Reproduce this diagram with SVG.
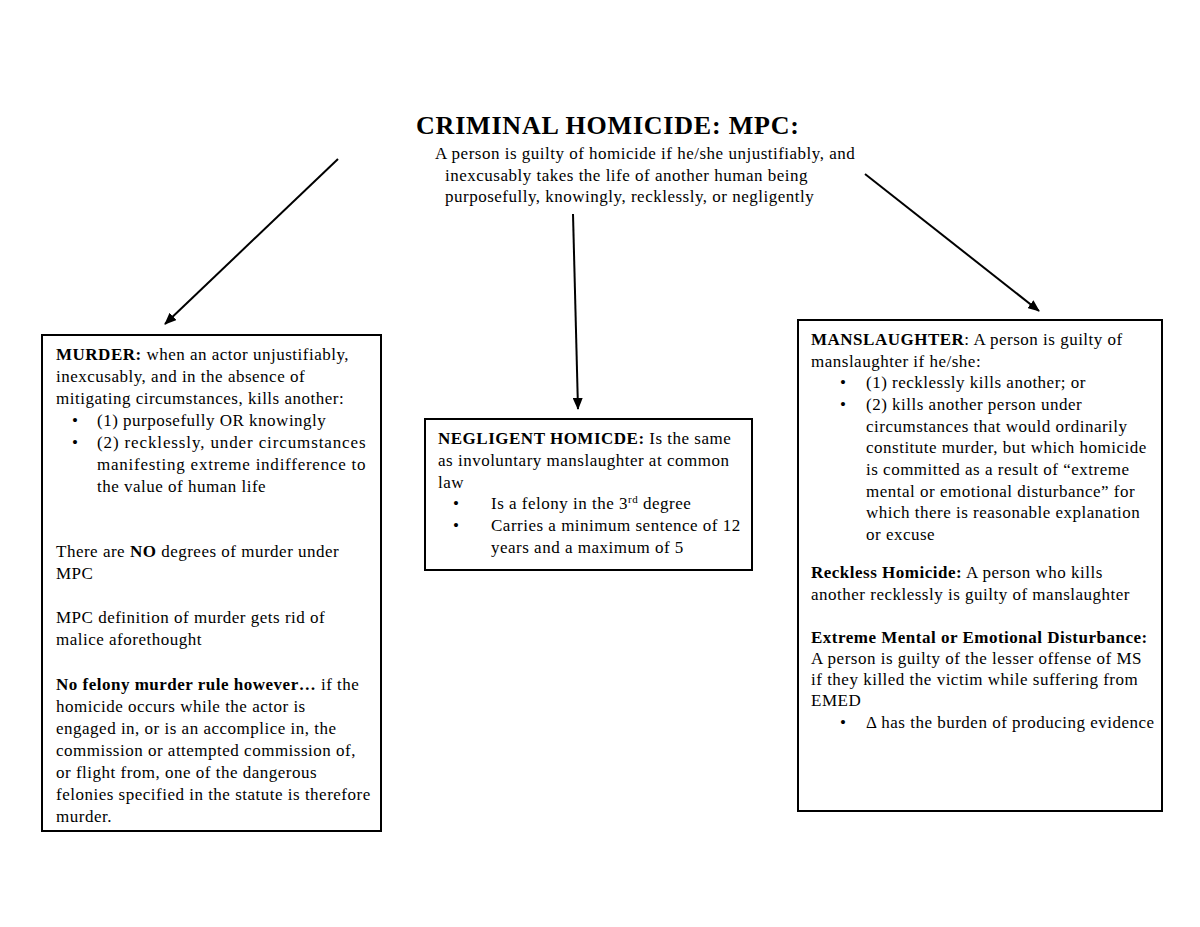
<svg xmlns="http://www.w3.org/2000/svg" width="1200" height="927" viewBox="0 0 1200 927">
<style>
text{font-family:"Liberation Serif","Times New Roman",serif;font-size:17px;letter-spacing:0.5px;fill:#000}
.b{font-weight:bold}
.t{font-size:26px;font-weight:bold;letter-spacing:0.8px}
.box{fill:#fff;stroke:#000;stroke-width:2}
.c{stroke:#000;stroke-width:2;fill:none}
</style>
<defs>
<marker id="ah" viewBox="0 0 12 10" refX="11" refY="5" markerWidth="12" markerHeight="10" orient="auto" markerUnits="userSpaceOnUse">
<path d="M0,0 L12,5 L0,10 z" fill="#000"/>
</marker>
</defs>
<rect width="1200" height="927" fill="#fff"/>
<g id="title">
<text class="t" x="416" y="134">CRIMINAL HOMICIDE: MPC:</text>
<text x="435" y="159">A person is guilty of homicide if he/she unjustifiably, and</text>
<text x="445" y="181">inexcusably takes the life of another human being</text>
<text x="445" y="202">purposefully, knowingly, recklessly, or negligently</text>
</g>
<g id="connectors">
<line class="c" x1="338" y1="159" x2="165" y2="324" marker-end="url(#ah)"/>
<line class="c" x1="573" y1="214" x2="578" y2="409" marker-end="url(#ah)"/>
<line class="c" x1="865" y1="174" x2="1039" y2="311" marker-end="url(#ah)"/>
</g>
<g id="murder">
<rect class="box" x="42" y="335" width="339" height="496"/>
<text x="56" y="360"><tspan class="b">MURDER:</tspan> when an actor unjustifiably,</text>
<text x="56" y="382">inexcusably, and in the absence of</text>
<text x="56" y="404">mitigating circumstances, kills another:</text>
<text x="72" y="426">•</text><text x="97" y="426">(1) purposefully OR knowingly</text>
<text x="72" y="448">•</text><text x="97" y="448" textLength="269" lengthAdjust="spacing">(2) recklessly, under circumstances</text>
<text x="97" y="470" textLength="269" lengthAdjust="spacing">manifesting extreme indifference to</text>
<text x="97" y="492">the value of human life</text>
<text x="56" y="557">There are <tspan class="b">NO</tspan> degrees of murder under</text>
<text x="56" y="579">MPC</text>
<text x="56" y="623">MPC definition of murder gets rid of</text>
<text x="56" y="645">malice aforethought</text>
<text x="56" y="690"><tspan class="b">No felony murder rule however…</tspan>  if the</text>
<text x="56" y="712">homicide occurs while the actor is</text>
<text x="56" y="734">engaged in, or is an accomplice in, the</text>
<text x="56" y="756">commission or attempted commission of,</text>
<text x="56" y="778">or flight from, one of the dangerous</text>
<text x="56" y="800">felonies specified in the statute is therefore</text>
<text x="56" y="822">murder.</text>
</g>
<g id="negligent">
<rect class="box" x="425" y="419" width="327" height="151"/>
<text x="438" y="444"><tspan class="b">NEGLIGENT HOMICDE:</tspan> Is the same</text>
<text x="438" y="466">as involuntary manslaughter at common</text>
<text x="438" y="488">law</text>
<text x="453" y="509">•</text><text x="491" y="509">Is a felony in the 3<tspan font-size="11" dy="-6">rd</tspan><tspan dy="6"> degree</tspan></text>
<text x="453" y="531">•</text><text x="491" y="531">Carries a minimum sentence of 12</text>
<text x="491" y="553">years and a maximum of 5</text>
</g>
<g id="manslaughter">
<rect class="box" x="798" y="320" width="364" height="491"/>
<text x="811" y="345"><tspan class="b">MANSLAUGHTER</tspan>: A person is guilty of</text>
<text x="811" y="367">manslaughter if he/she:</text>
<text x="840" y="388">•</text><text x="866" y="388">(1) recklessly kills another; or</text>
<text x="840" y="410">•</text><text x="866" y="410">(2) kills another person under</text>
<text x="866" y="432">circumstances that would ordinarily</text>
<text x="866" y="453">constitute murder, but which homicide</text>
<text x="866" y="475">is committed as a result of “extreme</text>
<text x="866" y="497">mental or emotional disturbance” for</text>
<text x="866" y="518">which there is reasonable explanation</text>
<text x="866" y="540">or excuse</text>
<text x="811" y="578"><tspan class="b">Reckless Homicide:</tspan> A person who kills</text>
<text x="811" y="600">another recklessly is guilty of manslaughter</text>
<text x="811" y="643"><tspan class="b">Extreme Mental or Emotional Disturbance:</tspan></text>
<text x="811" y="664">A person is guilty of the lesser offense of MS</text>
<text x="811" y="685">if they killed the victim while suffering from</text>
<text x="811" y="706">EMED</text>
<text x="840" y="728">•</text><text x="866" y="728">Δ has the burden of producing evidence</text>
</g>
</svg>
